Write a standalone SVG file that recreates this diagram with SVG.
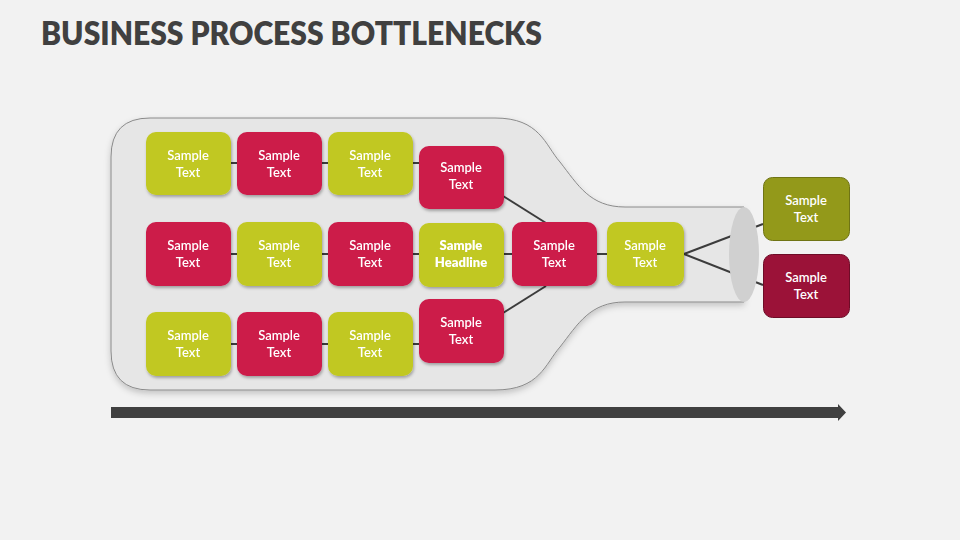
<svg xmlns="http://www.w3.org/2000/svg" width="960" height="540" viewBox="0 0 960 540">
<defs>
<filter id="sh" x="-20%" y="-20%" width="140%" height="150%"><feDropShadow dx="1" dy="2" stdDeviation="1.5" flood-color="#000" flood-opacity="0.3"/></filter>
<filter id="bsh" x="-10%" y="-10%" width="120%" height="130%"><feDropShadow dx="0" dy="3" stdDeviation="3" flood-color="#000" flood-opacity="0.2"/></filter>
</defs>
<style>
.g{fill:#c1c820}.r{fill:#cc1a4a}.o{fill:#93991a;stroke:#6f7414;stroke-width:1}.d{fill:#9b1238;stroke:#6e0c27;stroke-width:1}
.box{filter:url(#sh)}
.t{font-family:Lato,"Open Sans","Liberation Sans",sans-serif;font-size:13px;font-weight:600;fill:#fff;text-anchor:middle}
.b{font-weight:800}
.c{stroke:#3c3c3c;stroke-width:2;fill:none}
</style>
<rect width="960" height="540" fill="#f2f2f2"/>
<text x="41" y="45" font-family="Lato,'Open Sans','Liberation Sans',sans-serif" font-size="32" font-weight="800" fill="#404040" textLength="501" lengthAdjust="spacingAndGlyphs">BUSINESS PROCESS BOTTLENECKS</text>
<g id="bottle">
<path d="M150,118 L495,118 C540,118 545,145 560,162 C578,185 590,207 625,207 L744,207 L744,302 L625,302 C590,302 578,324 560,347 C545,364 540,390 495,390 L150,390 Q111,390 111,351 L111,157 Q111,118 150,118 Z" fill="#e6e6e6" stroke="#8a8a8a" stroke-width="1" filter="url(#bsh)"/>
</g>
<g id="connectors">
<line class="c" x1="231" y1="163" x2="237" y2="163"/>
<line class="c" x1="322" y1="163" x2="328" y2="163"/>
<line class="c" x1="413" y1="163" x2="419" y2="163"/>
<line class="c" x1="231" y1="254" x2="237" y2="254"/>
<line class="c" x1="322" y1="254" x2="328" y2="254"/>
<line class="c" x1="413" y1="254" x2="419" y2="254"/>
<line class="c" x1="504" y1="254" x2="512" y2="254"/>
<line class="c" x1="597" y1="254" x2="607" y2="254"/>
<line class="c" x1="231" y1="344" x2="237" y2="344"/>
<line class="c" x1="322" y1="344" x2="328" y2="344"/>
<line class="c" x1="413" y1="344" x2="419" y2="344"/>
<line class="c" x1="503" y1="196" x2="546" y2="223"/>
<line class="c" x1="503" y1="313" x2="546" y2="286"/>
<line class="c" x1="684" y1="254" x2="763" y2="224"/>
<line class="c" x1="684" y1="254" x2="763" y2="285"/>
</g>
<g id="neck-end"><ellipse cx="744" cy="254.5" rx="15" ry="47.5" fill="#d0d0d0"/></g>
<g id="n1" class="box"><rect class="g" x="146" y="132" width="85" height="63" rx="10"/><text class="t" x="188" y="160">Sample</text><text class="t" x="188" y="177">Text</text></g>
<g id="n2" class="box"><rect class="r" x="237" y="132" width="85" height="63" rx="10"/><text class="t" x="279" y="160">Sample</text><text class="t" x="279" y="177">Text</text></g>
<g id="n3" class="box"><rect class="g" x="328" y="132" width="85" height="63" rx="10"/><text class="t" x="370" y="160">Sample</text><text class="t" x="370" y="177">Text</text></g>
<g id="n4" class="box"><rect class="r" x="419" y="146" width="85" height="63" rx="10"/><text class="t" x="461" y="172">Sample</text><text class="t" x="461" y="189">Text</text></g>
<g id="n5" class="box"><rect class="r" x="146" y="222" width="85" height="64" rx="10"/><text class="t" x="188" y="250">Sample</text><text class="t" x="188" y="267">Text</text></g>
<g id="n6" class="box"><rect class="g" x="237" y="222" width="85" height="64" rx="10"/><text class="t" x="279" y="250">Sample</text><text class="t" x="279" y="267">Text</text></g>
<g id="n7" class="box"><rect class="r" x="328" y="222" width="85" height="64" rx="10"/><text class="t" x="370" y="250">Sample</text><text class="t" x="370" y="267">Text</text></g>
<g id="n8" class="box"><rect class="g" x="419" y="223" width="85" height="64" rx="10"/><text class="t b" x="461" y="250">Sample</text><text class="t b" x="461" y="267">Headline</text></g>
<g id="n9" class="box"><rect class="r" x="512" y="222" width="85" height="64" rx="10"/><text class="t" x="554" y="250">Sample</text><text class="t" x="554" y="267">Text</text></g>
<g id="n10" class="box"><rect class="g" x="607" y="222" width="77" height="64" rx="10"/><text class="t" x="645" y="250">Sample</text><text class="t" x="645" y="267">Text</text></g>
<g id="n11" class="box"><rect class="g" x="146" y="312" width="85" height="64" rx="10"/><text class="t" x="188" y="340">Sample</text><text class="t" x="188" y="357">Text</text></g>
<g id="n12" class="box"><rect class="r" x="237" y="312" width="85" height="64" rx="10"/><text class="t" x="279" y="340">Sample</text><text class="t" x="279" y="357">Text</text></g>
<g id="n13" class="box"><rect class="g" x="328" y="312" width="85" height="64" rx="10"/><text class="t" x="370" y="340">Sample</text><text class="t" x="370" y="357">Text</text></g>
<g id="n14" class="box"><rect class="r" x="419" y="299" width="85" height="64" rx="10"/><text class="t" x="461" y="327">Sample</text><text class="t" x="461" y="344">Text</text></g>
<g id="n15"><rect class="o" x="763.5" y="177.5" width="86" height="63" rx="9"/><text class="t" x="806" y="205">Sample</text><text class="t" x="806" y="222">Text</text></g>
<g id="n16"><rect class="d" x="763.5" y="254.5" width="86" height="63" rx="9"/><text class="t" x="806" y="282">Sample</text><text class="t" x="806" y="299">Text</text></g>
<g id="timeline"><path d="M111,407 L838,407 L838,404 L846,412.5 L838,421 L838,418 L111,418 Z" fill="#404040"/></g>
</svg>
